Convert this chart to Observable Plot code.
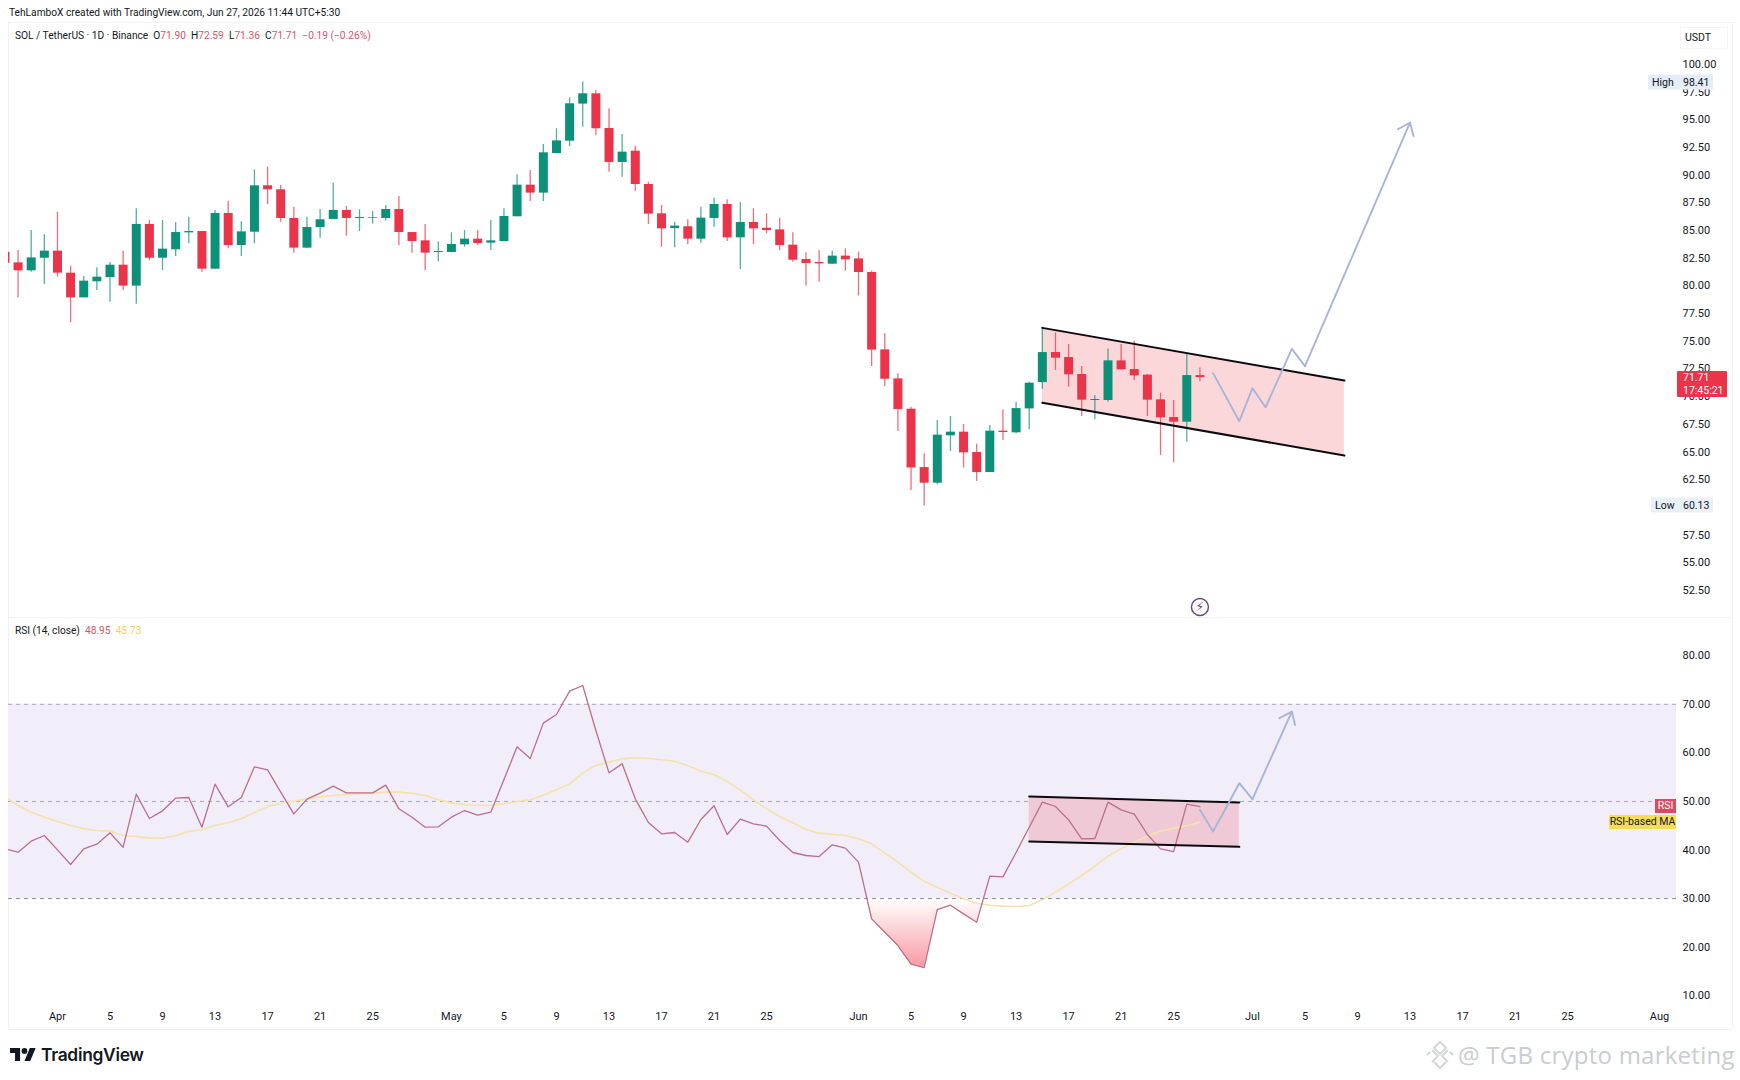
<!DOCTYPE html>
<html><head><meta charset="utf-8">
<script src="https://cdn.jsdelivr.net/npm/d3@7"></script>
<script src="https://cdn.jsdelivr.net/npm/@observablehq/plot@0.6"></script>
<style>
html,body{margin:0;padding:0;background:#fff;}
#page{position:relative;width:1740px;height:1080px;overflow:hidden;font-family:Roboto,sans-serif;color:#131722;}
#page>svg,.pane svg{position:absolute;left:0;}
.pane{position:absolute;left:0;width:1740px;}
.abs{position:absolute;white-space:nowrap;}
.line{position:absolute;background:#f0f1f5;}
.tag{position:absolute;white-space:nowrap;font-size:10.5px;line-height:15px;transform:translateY(-50%);text-align:right;box-sizing:border-box;}
.r{color:#d9566b}.y{color:#f4cf60}
</style></head><body><div id="page"></div>
<script>
const opens=[83.05,82.08,81.36,82.50,83.14,81.15,78.92,80.37,80.76,81.87,79.98,85.55,82.50,83.26,84.79,84.91,81.51,86.54,83.65,84.85,89.04,88.68,86.09,83.41,85.27,86.00,86.81,86.09,86.09,86.09,86.90,84.82,84.07,83.02,83.02,83.71,84.22,83.86,84.01,86.24,89.10,88.38,91.96,93.07,96.42,97.35,94.22,91.15,92.17,89.16,86.51,85.18,85.34,84.22,86.09,87.35,84.34,85.73,85.21,85.06,83.68,82.38,82.11,81.96,82.69,82.44,81.21,74.22,71.60,68.86,63.59,62.18,66.46,66.79,64.95,63.14,66.88,66.73,68.89,71.27,73.98,73.53,72.00,69.65,69.65,73.23,72.45,71.94,69.71,68.11,67.69,71.90];
const highs=[83.20,83.20,85.00,84.61,86.66,81.78,80.85,81.63,82.11,83.14,86.96,85.91,85.91,85.70,86.21,84.94,86.81,87.65,85.79,90.48,90.72,89.07,87.11,86.21,86.90,89.28,87.17,86.87,86.72,87.26,88.08,84.82,85.55,83.98,84.79,85.00,85.00,85.91,86.96,90.03,90.42,92.77,94.19,96.99,98.41,97.65,95.99,93.68,92.62,89.37,87.26,85.76,85.97,87.11,87.95,87.77,87.50,86.96,86.51,86.12,84.79,82.99,83.20,83.14,83.35,83.05,81.33,75.67,72.06,69.04,64.83,67.84,68.20,67.48,65.73,67.39,68.80,69.50,71.30,76.21,75.76,74.71,72.72,70.10,74.31,74.71,75.01,72.00,70.31,69.65,73.86,72.59];
const lows=[81.90,78.92,81.24,80.13,80.79,76.66,78.92,79.58,78.53,79.58,78.35,82.29,81.39,82.66,83.80,81.24,81.51,83.35,82.66,83.80,87.35,85.76,82.96,83.35,84.31,86.00,84.49,84.91,85.58,85.85,83.62,82.96,81.39,82.17,82.99,83.50,83.65,83.20,84.01,86.24,87.62,87.62,91.96,92.59,94.34,93.56,90.27,89.82,88.53,85.55,83.50,83.44,83.71,83.86,85.30,84.01,81.48,83.71,84.70,83.20,82.14,79.98,80.34,81.96,81.33,79.10,72.72,70.91,66.85,61.52,60.13,62.03,65.04,63.56,62.33,63.14,66.03,66.64,67.00,70.67,72.36,70.85,68.20,67.90,69.50,72.42,71.45,68.20,64.68,64.02,65.88,71.36];
const closes=[82.05,81.36,82.53,83.14,81.15,78.92,80.43,80.79,81.87,79.98,85.55,82.50,83.32,84.82,84.91,81.51,86.54,83.65,84.88,89.04,88.68,86.09,83.41,85.27,85.97,86.81,86.09,86.18,86.15,86.90,84.82,84.01,82.96,83.11,83.74,84.22,83.83,84.07,86.27,89.10,88.38,92.02,93.10,96.45,97.35,94.19,91.15,92.08,89.16,86.48,85.15,85.40,84.22,86.12,87.35,84.34,85.73,85.15,85.00,83.65,82.32,82.02,81.99,82.69,82.35,81.21,74.20,71.57,68.83,63.56,62.18,66.52,66.79,64.92,63.14,66.88,66.76,68.92,71.21,73.98,73.47,71.97,69.68,69.74,73.23,72.42,71.88,69.68,68.08,67.69,71.90,71.71];
const rsi=[40.24,39.55,41.82,42.99,40.04,37.02,40.24,41.20,43.54,40.58,51.50,46.49,48.07,50.67,50.81,44.70,53.56,48.89,50.81,57.12,56.51,51.91,47.45,50.47,51.70,53.14,51.77,51.77,51.77,53.35,48.48,46.76,44.70,44.77,46.76,48.13,47.17,47.79,54.52,61.24,58.84,66.12,67.90,72.70,73.87,64.61,55.89,57.74,50.54,45.66,43.33,43.61,41.61,46.28,49.10,43.19,46.35,45.39,44.91,41.96,39.49,38.87,38.66,41.07,40.38,37.50,25.83,23.08,20.34,16.50,15.81,27.75,28.64,26.86,25.14,34.61,34.48,39.49,44.70,49.85,48.96,46.21,42.30,42.37,49.85,48.27,47.38,43.19,40.24,39.69,49.44,48.95];
const rsiMA=[50.88,49.16,47.79,46.76,45.87,45.05,44.36,44.02,43.88,42.99,42.78,42.44,42.44,42.99,43.81,44.22,45.05,45.60,46.42,47.72,48.96,49.64,50.06,50.47,50.95,51.22,51.43,51.57,51.70,51.91,51.91,51.70,51.22,50.33,49.71,49.37,49.23,49.16,49.51,49.99,50.33,51.29,52.39,53.62,55.89,57.40,58.09,58.77,58.98,58.84,58.57,58.29,57.33,56.23,55.48,54.10,52.32,50.33,48.48,46.90,45.60,44.29,43.47,43.19,42.99,42.30,41.27,39.35,37.50,35.44,33.52,32.35,31.11,29.95,29.05,28.64,28.44,28.37,28.57,29.74,31.32,33.04,34.75,36.67,38.73,40.24,41.61,42.85,43.88,44.50,45.05,45.73];
const priceTicks=[52.5,55,57.5,60,62.5,65,67.5,70,72.5,75,77.5,80,82.5,85,87.5,90,92.5,95,97.5,100];
const rsiTicks=[10,20,30,40,50,60,70,80];
const rsiLevels=[70,50,30];
const channelDates=["2026-06-15","2026-07-08"],channelUpper=[76.21,71.45],channelLower=[69.44,64.68];
const rsiChannelDates=["2026-06-14","2026-06-30"],rsiChannelUpper=[51.0,49.8],rsiChannelLower=[41.75,40.65];
const pathDates=["2026-06-28","2026-06-30","2026-07-01","2026-07-02","2026-07-04","2026-07-05"],pathPrices=[72.12,67.78,70.76,69.04,74.31,72.75];
const pathTipDate="2026-07-13",pathTipPrice=94.76;
const rsiPathDates=["2026-06-27","2026-06-28","2026-06-30","2026-07-01"],rsiPathValues=[48.27,43.8,53.76,50.47];
const rsiTipDate="2026-07-04",rsiTipValue=68.5;
const tickDates=["2026-04-01","2026-04-05","2026-04-09","2026-04-13","2026-04-17","2026-04-21","2026-04-25","2026-05-01","2026-05-05","2026-05-09","2026-05-13","2026-05-17","2026-05-21","2026-05-25","2026-06-01","2026-06-05","2026-06-09","2026-06-13","2026-06-17","2026-06-21","2026-06-25","2026-07-01","2026-07-05","2026-07-09","2026-07-13","2026-07-17","2026-07-21","2026-07-25","2026-08-01"].map(d=>new Date(d));
const xDomain=[new Date("2026-03-28T06:30Z"),new Date("2026-08-02T07:00Z")];

const GREEN="#0c9178",RED="#e9344a",BLUE="#a8b4d8",FONT="Roboto, sans-serif";
const days=d3.utcDay.range(new Date("2026-03-28"),new Date("2026-06-28"));
const candles=days.map((date,i)=>({date,open:opens[i],high:highs[i],low:lows[i],close:closes[i],up:closes[i]>=opens[i]}));
const rsiRows=days.map((date,i)=>({date,rsi:rsi[i],ma:rsiMA[i]}));
const d=s=>new Date(s);
const channel=channelDates.map((s,i)=>({date:d(s),upper:channelUpper[i],lower:channelLower[i]}));
const rsiChannel=rsiChannelDates.map((s,i)=>({date:d(s),upper:rsiChannelUpper[i],lower:rsiChannelLower[i]}));
const pathRows=pathDates.map((s,i)=>({date:d(s),v:pathPrices[i]}));
const rsiPathRows=rsiPathDates.map((s,i)=>({date:d(s),v:rsiPathValues[i]}));
const last=a=>a[a.length-1];
const page=document.getElementById("page");
const common={width:1740,marginLeft:8,marginRight:64,marginTop:0,style:{background:"transparent",fontFamily:FONT,color:"#131722",overflow:"visible"}};

const mainTop=22,mainH=595,rsiTop=617,rsiH=412;
const main=Plot.plot({...common,height:mainH,marginBottom:0,
  x:{type:"utc",domain:xDomain,axis:null},
  y:{domain:[50.05,103.79],axis:null},
  marks:[
    Plot.areaY(channel,{x:"date",y1:"lower",y2:"upper",fill:"#fbd7da"}),
    Plot.ruleX(candles,{x:"date",y1:"low",y2:"high",stroke:c=>c.up?GREEN:RED,strokeWidth:1.3,strokeOpacity:.72,clip:true}),
    Plot.ruleX(candles,{x:"date",y1:"open",y2:"close",stroke:c=>c.up?GREEN:RED,strokeWidth:9,clip:true}),
    Plot.line(channel,{x:"date",y:"upper",stroke:"#0b0b0f",strokeWidth:2}),
    Plot.line(channel,{x:"date",y:"lower",stroke:"#0b0b0f",strokeWidth:2}),
    Plot.line(pathRows,{x:"date",y:"v",stroke:BLUE,strokeWidth:1.9}),
    Plot.arrow([0],{x1:()=>last(pathRows).date,y1:()=>last(pathRows).v,x2:()=>d(pathTipDate),y2:()=>pathTipPrice,stroke:BLUE,strokeWidth:1.9,headLength:11,headAngle:75}),
    Plot.dot([0],{x:()=>d("2026-06-27"),y:()=>51.0,r:8.5,stroke:"#6a4a85",strokeWidth:1.5,fill:"#fff"}),
    Plot.text(["⚡"],{x:()=>d("2026-06-27"),y:()=>51.0,text:t=>t,fontSize:13,fill:"#6a4a85",fontFamily:"DejaVu Sans"}),
    Plot.axisY(priceTicks,{anchor:"right",tickSize:0,tickPadding:6,fontSize:11,fill:"#131722",tickFormat:v=>v.toFixed(2),label:null})
  ]});

const rsiPlot=Plot.plot({...common,height:rsiH,marginBottom:31,
  x:{type:"utc",domain:xDomain,axis:null},
  y:{domain:[9.43,87.87],axis:null},
  marks:[
    Plot.rect([0],{x1:()=>xDomain[0],x2:()=>xDomain[1],y1:()=>30,y2:()=>70,fill:"#f1edf9"}),
    Plot.ruleY(rsiLevels,{stroke:"#8a8c96",strokeOpacity:v=>v===30?1:.75,strokeWidth:1,strokeDasharray:"4,4"}),
    Plot.areaY(rsiRows,{x:"date",y1:()=>30,y2:"rsi",fill:"url(#os)",render(index,scales,values,dim,ctx,next){
      const g=next(index,scales,values,dim,ctx);
      const ns="http://www.w3.org/2000/svg",defs=document.createElementNS(ns,"defs");
      const y30=scales.y(30),y15=scales.y(15.8);
      defs.innerHTML=`<linearGradient id="os" gradientUnits="userSpaceOnUse" x1="0" x2="0" y1="${y30}" y2="${y15}"><stop offset="0" stop-color="#f23645" stop-opacity="0"/><stop offset="1" stop-color="#f23645" stop-opacity=".5"/></linearGradient><clipPath id="below30"><rect x="0" y="${y30}" width="1740" height="300"/></clipPath>`;
      g.appendChild(defs);g.setAttribute("clip-path","url(#below30)");return g;}}),
    Plot.areaY(rsiChannel,{x:"date",y1:"lower",y2:"upper",fill:"#efc9d6"}),
    Plot.line(rsiRows,{x:"date",y:"ma",stroke:"#f5e2ab",strokeWidth:1.6,clip:true}),
    Plot.line(rsiRows,{x:"date",y:"rsi",stroke:"#bc6f89",strokeWidth:1.3,clip:true}),
    Plot.line(rsiChannel,{x:"date",y:"upper",stroke:"#0b0b0f",strokeWidth:2}),
    Plot.line(rsiChannel,{x:"date",y:"lower",stroke:"#0b0b0f",strokeWidth:2}),
    Plot.line(rsiPathRows,{x:"date",y:"v",stroke:BLUE,strokeWidth:1.9}),
    Plot.arrow([0],{x1:()=>last(rsiPathRows).date,y1:()=>last(rsiPathRows).v,x2:()=>d(rsiTipDate),y2:()=>rsiTipValue,stroke:BLUE,strokeWidth:1.9,headLength:11,headAngle:75}),
    Plot.axisY(rsiTicks,{anchor:"right",tickSize:0,tickPadding:6,fontSize:11,fill:"#131722",tickFormat:v=>v.toFixed(2),label:null}),
    Plot.axisX(tickDates,{anchor:"bottom",tickSize:0,tickPadding:14,fontSize:11,fill:"#131722",label:null,
      tickFormat:t=>t.getUTCDate()===1?d3.utcFormat("%b")(t):String(t.getUTCDate())})
  ]});

function addPane(svg,top){const w=document.createElement("div");w.className="pane";w.style.top=top+"px";w.appendChild(svg);page.appendChild(w);}
function html(s){const t=document.createElement("template");t.innerHTML=s.trim();const e=t.content.firstChild;page.appendChild(e);return e;}
[["left:8px;top:22px;width:1724px;height:1px"],["left:8px;top:617px;width:1724px;height:1px"],["left:8px;top:1029px;width:1724px;height:1px"],["left:8px;top:22px;width:1px;height:1007px"],["left:1732px;top:22px;width:1px;height:1007px"]].forEach(s=>html(`<div class="line" style="${s}"></div>`));
addPane(main,mainTop);addPane(rsiPlot,rsiTop);
html(`<div class="abs" style="left:9px;top:6px;font-size:10.2px;line-height:14px">TehLamboX created with TradingView.com, Jun 27, 2026 11:44 UTC+5:30</div>`);
html(`<div class="abs" style="left:15px;top:29px;font-size:10.2px;line-height:14px">SOL / TetherUS · 1D · Binance&nbsp; O<span class="r">71.90</span>&nbsp; H<span class="r">72.59</span>&nbsp; L<span class="r">71.36</span>&nbsp; C<span class="r">71.71</span>&nbsp; <span class="r">−0.19 (−0.26%)</span></div>`);
html(`<div class="abs" style="left:15px;top:624px;font-size:10.2px;line-height:14px">RSI (14, close)&nbsp; <span class="r">48.95</span>&nbsp; <span class="y">45.73</span></div>`);
html(`<div class="abs" style="left:1680px;top:27px;width:48px;height:22px;border:1px solid #f4f5f8;box-sizing:border-box;font-size:10.5px;line-height:20px;padding-left:4px">USDT</div>`);
const py=v=>mainTop+main.scale("y").apply(v), ry=v=>rsiTop+rsiPlot.scale("y").apply(v);
const high=98.41,low=60.13,lastClose=71.71;
html(`<div class="tag" style="left:1648px;width:65px;top:${py(high)}px;background:#e4edf8;text-align:left;padding-left:4px;height:15px">High<span style="position:absolute;left:35px">${high.toFixed(2)}</span></div>`);
html(`<div class="tag" style="left:1651px;width:62px;top:${py(low)}px;background:#e9f0f8;text-align:left;padding-left:4px;height:15px">Low<span style="position:absolute;left:32px">${low.toFixed(2)}</span></div>`);
html(`<div class="tag" style="left:1677px;width:50px;top:${py(lastClose)+7}px;background:#e9344a;color:#fff;text-align:left;padding-left:6px;height:26px;line-height:13px;border-radius:1px">${lastClose.toFixed(2)}<br>17:45:21</div>`);
html(`<div class="tag" style="left:1655px;width:21px;top:${ry(last(rsi))}px;background:#dc4a62;color:#fff;text-align:center;height:14px;line-height:14px">RSI</div>`);
html(`<div class="tag" style="left:1609px;width:67px;top:${ry(last(rsiMA))}px;background:#f7dc58;color:#131722;text-align:center;height:14px;line-height:14px">RSI-based MA</div>`);
html(`<svg style="position:absolute;left:10px;top:1047px" width="26" height="15" viewBox="0 4 36 18"><path fill="#131722" d="M14 22H7V11H0V4h14v18zM28 22h-8l7.5-18h8L28 22z"/><circle cx="20" cy="8" r="4" fill="#131722"/></svg>`);
html(`<div class="abs" style="left:41px;top:1043px;font-family:Inter,sans-serif;font-weight:600;font-size:17.4px;line-height:24px;letter-spacing:-.3px;color:#131722">TradingView</div>`);
html(`<svg style="position:absolute;left:1425px;top:1040px" width="30" height="30" viewBox="0 0 30 30" fill="none" stroke="#d4d6da" stroke-width="2"><path d="M15 2l6 6-6 6-6-6zM7 10l6 6-6 6M23 10l-6 6 6 6M9 22l6 6 6-6M2 15l3-3M28 15l-3-3"/></svg>`);
html(`<div class="abs" style="left:1458px;top:1039px;font-family:'Open Sans',sans-serif;font-size:24px;line-height:32px;letter-spacing:.25px;color:#c9ccd1">@ TGB crypto marketing</div>`);
</script></body></html>
